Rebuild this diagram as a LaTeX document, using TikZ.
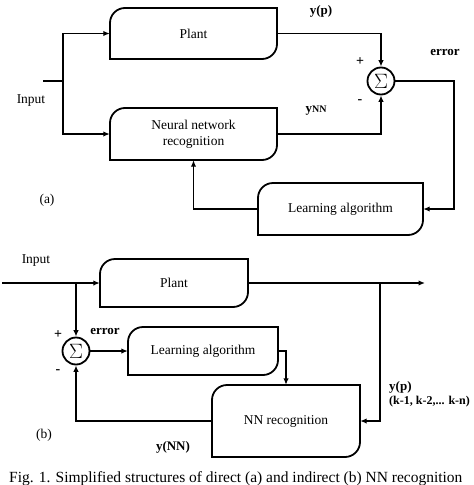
\documentclass[tikz,border=0pt]{standalone}
\usepackage{fontspec}
\setmainfont{Liberation Serif}
\usetikzlibrary{arrows.meta,calc}
\tikzset{
  wire/.style={line width=1.8pt, line join=miter},
  arr/.style={wire, -{Latex[length=6.5pt,width=5.5pt]}},
  blk/.style={inner sep=0pt, align=center, font=\fontsize{13.5}{16}\selectfont},
  sumnode/.style={circle, draw, line width=1.8pt, minimum size=27pt, inner sep=0pt},
  lbl/.style={inner sep=0pt, font=\fontsize{13.5}{15}\selectfont},
  pm/.style={inner sep=0pt, font=\fontsize{14}{15}\selectfont\bfseries},
  blbl/.style={inner sep=0pt, font=\fontsize{13}{15}\selectfont\bfseries},
}
\newcommand{\rr}{15}
\newcommand{\rblk}[6]{%
  \node[blk, minimum width={(#4-#2)*1pt}, minimum height={(#5-#3)*1pt}] (#1) at ({(#2+#4)/2},{(#3+#5)/2}) {#6};
  \draw[wire] (#4,#3) -- ({#2+\rr},#3) .. controls ({#2+0.448*\rr},#3) and (#2,{#3+0.448*\rr}) .. (#2,{#3+\rr}) -- (#2,#5) -- ({#4-\rr},#5) .. controls ({#4-0.448*\rr},#5) and (#4,{#5-0.448*\rr}) .. (#4,{#5-\rr}) -- cycle;
}
\begin{document}
\begin{tikzpicture}[x=1pt,y=-1pt]
\useasboundingbox (0,0) rectangle (474,485);
% ---------- (a)
\rblk{pa}{110}{8}{277}{59}{Plant}
\rblk{na}{110}{108}{277}{160}{Neural network\\recognition}
\rblk{la}{258}{183}{423}{235}{Learning algorithm}
\node[sumnode] (sa) at (381,81) {\fontsize{20}{20}\selectfont$\Sigma$};
\coordinate (ina) at (43,81);
\coordinate (ja) at (63,81);
\coordinate (ea) at (454,81);
\draw[wire] (ina) -- (ja);
\draw[arr] (ja) |- (pa.west);
\draw[arr] (ja) |- (na.west);
\draw[arr] (pa.east) -| (sa.north);
\draw[arr] (na.east) -| (sa.south);
\draw[arr] (sa.east) -- (ea) |- (la.east);
\draw[arr] (la.west) -| (na.south);
\node[lbl] (tin) at (31,101) {Input};
\node[blbl] (typ) at (321,11) {y(p)};
\node[blbl] (terr) at (445,52) {error};
\node[pm] (tpa) at (360,62) {+};
\node[pm] (tma) at (360,102) {-};
\node[blbl] (tynn) at (316,111) {y{\fontsize{10}{10}\selectfont NN}};
\node[lbl] (ta) at (47,200) {(a)};
% ---------- (b)
\rblk{pb}{100}{259}{248}{307}{Plant}
\rblk{lb}{128}{327}{278}{375}{Learning algorithm}
\rblk{nb}{212}{385}{360}{457}{NN recognition}
\node[sumnode] (sb) at (76,351) {\fontsize{20}{20}\selectfont$\Sigma$};
\coordinate (inb) at (2,283);
\coordinate (jb) at (76,283);
\coordinate (jb2) at (380,283);
\coordinate (outb) at (425,283);
\draw[arr] (inb) -- (pb.west);
\draw[arr] (jb) -- (sb.north);
\draw[arr] (pb.east) -- (outb);
\draw[arr] (jb2) |- (nb.east);
\draw[arr] (sb.east) -- (lb.west);
\draw[arr] (lb.east) -| (nb.north);
\draw[arr] (nb.west) -| (sb.south);
\node[lbl] (tinb) at (36,261) {Input};
\node[pm] (tpb) at (58,335) {+};
\node[pm] (tmb) at (58,372) {-};
\node[blbl] (terrb) at (105,331) {error};
\node[blbl, anchor=west] (typb) at (389,387) {y(p)};
\node[blbl, anchor=west, font=\fontsize{12}{14}\selectfont\bfseries] (tk) at (389,402) {(k-1, k-2,... k-n)};
\node[lbl] (tb) at (44,435) {(b)};
\node[blbl] (tynnb) at (173,447) {y(NN)};
\node[inner sep=0pt, anchor=west, font=\fontsize{15.5}{17}\selectfont] (cap) at (9,479) {Fig. 1. Simplified structures of direct (a) and indirect (b) NN recognition};
\end{tikzpicture}
\end{document}
